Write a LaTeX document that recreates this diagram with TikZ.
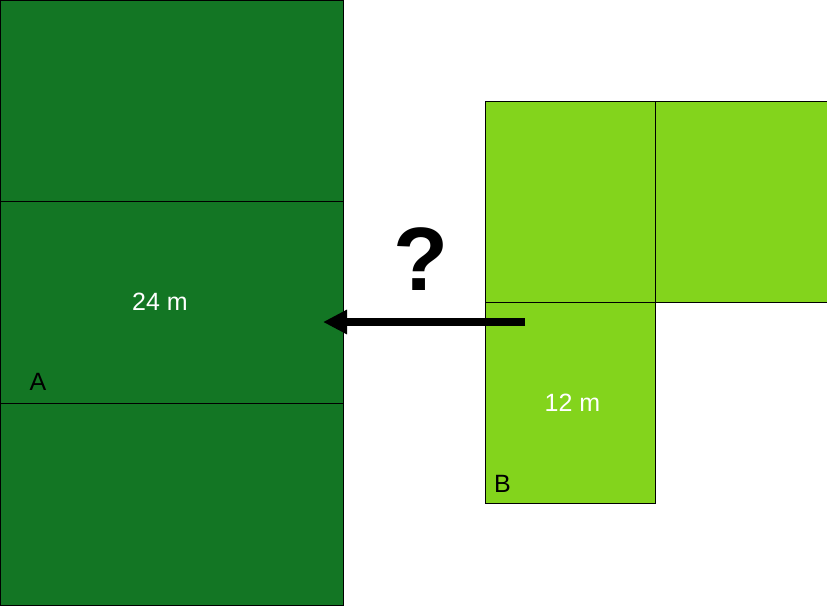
\documentclass[tikz,border=0pt]{standalone}
\usepackage{fontspec}
\setmainfont{Liberation Sans}
\usetikzlibrary{positioning}
\usetikzlibrary{arrows.meta}
\definecolor{darkfield}{HTML}{137624}
\definecolor{lightfield}{HTML}{83D41C}

\begin{document}
\begin{tikzpicture}[x=1pt, y=-1pt, node distance=0pt,
  cell/.style={draw, line width=1pt, inner sep=0pt, outer sep=0pt},
  bigcell/.style={cell, fill=darkfield, anchor=north west, minimum width=343pt, minimum height=201.7pt},
  smallcell/.style={cell, fill=lightfield, minimum width=170pt, minimum height=201pt},
  tag/.style={font=\fontsize{25}{29}\selectfont, inner sep=0pt}]
  \useasboundingbox (0,0) rectangle (827,605);

  % field A: three strips
  \foreach \i in {0,1,2} \node[bigcell] (a\i) at (0, 201.7*\i) {};

  % field B: three squares
  \node[smallcell, anchor=north west] (b1) at (485, 101) {};
  \node[smallcell, right=of b1, minimum width=172.5pt] (b2) {};
  \node[smallcell, below=of b1] (b3) {};

  \node[tag, white] (lenA) at (160, 302) {24 m};
  \node[tag] (nameA) at (38, 382) {A};
  \node[tag, white] (lenB) at (572.5, 402.5) {12 m};
  \node[tag] (nameB) at (502.5, 483.5) {B};

  \node[font=\fontsize{90}{100}\selectfont\bfseries, inner sep=0pt] (ask) at (421, 259) {?};

  \coordinate (from) at (525, 322);
  \coordinate (to) at (323, 322);
  \draw[line width=7.5pt, -{Triangle[length=24pt, width=23pt]}] (from) -- (to);
\end{tikzpicture}
\end{document}
